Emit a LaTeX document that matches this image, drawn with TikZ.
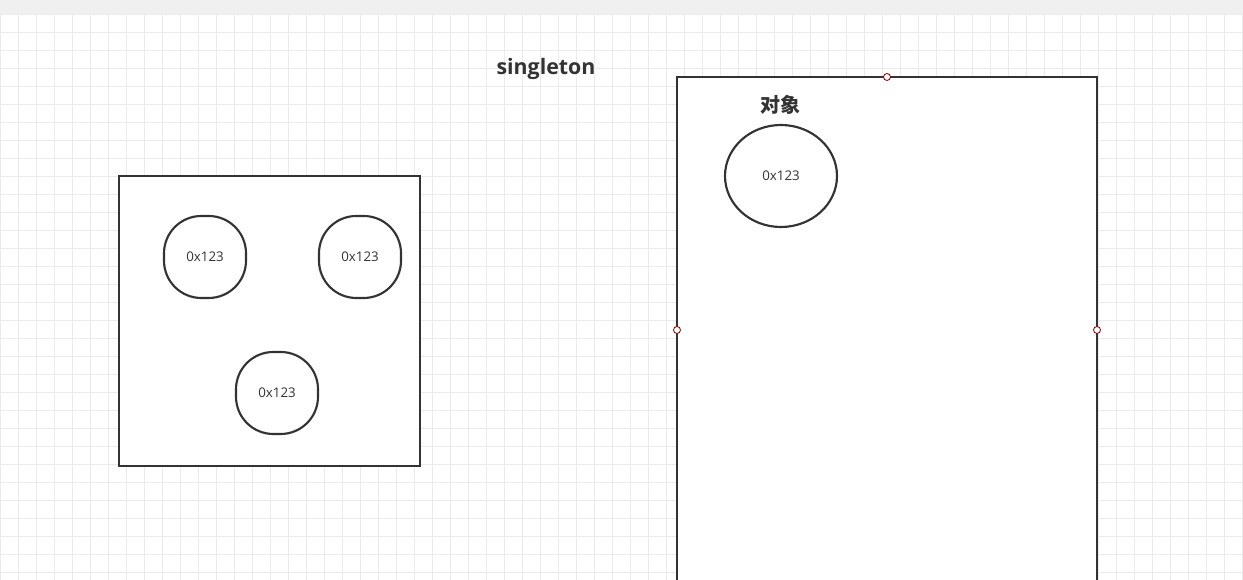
\documentclass[tikz,border=0pt]{standalone}
\usepackage{fontspec}
\usetikzlibrary{shapes.geometric}
\setmainfont{Open Sans}
\newfontfamily\cjk{Noto Sans CJK SC}
\begin{document}
\begin{tikzpicture}[x=0.75pt,y=-0.75pt,
  shp/.style={draw=black!80,line width=1.6pt},
  blob/.style={shp,rounded corners=28,minimum width=82*0.75pt,minimum height=82*0.75pt,inner sep=0pt,font=\fontsize{10}{12}\selectfont,text=black!80},
  hdl/.style={draw=red!50!black,fill=white,line width=0.6pt,circle,inner sep=0pt,minimum size=7*0.75pt}]
\useasboundingbox (0,0) rectangle (1243,580);
\fill[white] (0,0) rectangle (1243,580);
\foreach \i in {0,...,69} \draw[black!8,line width=0.6pt] (\i*18,14) -- (\i*18,580);
\foreach \j in {0,...,32} \draw[black!8,line width=0.6pt] (0,14+\j*18) -- (1243,14+\j*18);
\fill[black!6] (0,0) rectangle (1243,14);
\draw[shp,fill=white] (119,176) rectangle (420,466);
\node[blob] (a) at (205,257) {0x123};
\node[blob] (b) at (360,257) {0x123};
\node[blob] (c) at (277,393) {0x123};
\draw[shp,fill=white] (677,590) -- (677,77) -- (1097,77) -- (1097,590);
\node[shp,ellipse,minimum width=112*0.75pt,minimum height=102*0.75pt,inner sep=0pt,font=\fontsize{10}{12}\selectfont,text=black!80] (d) at (781,176) {0x123};
\node[font=\bfseries\fontsize{16}{18}\selectfont,text=black!80] (t) at (546,69) {singleton};
\node[font=\cjk\bfseries\fontsize{15}{18}\selectfont,text=black!80] (o) at (780,105) {对象};
\node[hdl] (h1) at (887,77) {};
\node[hdl] (h2) at (677,330) {};
\node[hdl] (h3) at (1097,330) {};
\end{tikzpicture}
\end{document}
